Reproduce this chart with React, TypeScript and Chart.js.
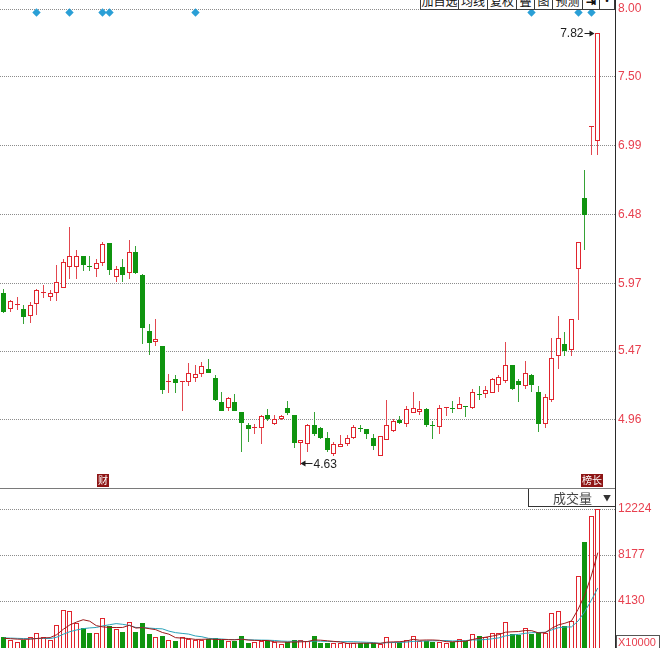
import React, { useEffect, useRef } from 'react';
import { Chart, registerables } from 'chart.js';

Chart.register(...registerables);

// ---------- data ----------
const opens = [
  5.90, 5.78, 5.81, 5.78, 5.73, 5.82, 5.90, 5.87, 5.90, 5.94,
  6.09, 6.09, 6.17, 6.095, 6.08, 6.12, 6.27, 6.02, 6.09, 6.05,
  6.20, 6.03, 5.62, 5.54, 5.51, 5.24, 5.26, 5.24, 5.24, 5.27,
  5.30, 5.34, 5.27, 5.09, 5.05, 5.09, 5.02, 4.92, 4.90, 4.90,
  5.00, 4.93, 4.97, 5.05, 5.00, 4.79, 4.78, 4.92, 4.90, 4.83,
  4.71, 4.76, 4.78, 4.83, 4.90, 4.89, 4.83, 4.69, 4.81, 4.88,
  4.96, 4.93, 5.01, 5.02, 5.04, 4.92, 4.91, 5.05, 5.05, 5.04,
  5.06, 5.05, 5.15, 5.15, 5.16, 5.22, 5.25, 5.37, 5.25, 5.21,
  5.29, 5.17, 4.93, 5.11, 5.43, 5.52, 5.48, 6.08, 6.60, 7.13,
  7.02,
];
const highs = [
  5.93, 5.85, 5.87, 5.81, 5.83, 5.93, 5.96, 5.92, 6.11, 6.15,
  6.39, 6.22, 6.17, 6.17, 6.15, 6.28, 6.27, 6.10, 6.15, 6.29,
  6.25, 6.04, 5.67, 5.71, 5.51, 5.30, 5.29, 5.25, 5.38, 5.37,
  5.39, 5.41, 5.29, 5.17, 5.13, 5.15, 5.02, 4.94, 4.93, 5.00,
  5.04, 5.00, 5.00, 5.10, 5.00, 4.81, 4.93, 5.02, 4.91, 4.87,
  4.80, 4.85, 4.85, 4.92, 4.92, 4.89, 4.86, 4.84, 5.11, 4.97,
  4.99, 5.06, 5.17, 5.10, 5.05, 4.95, 5.07, 5.05, 5.10, 5.13,
  5.06, 5.19, 5.21, 5.21, 5.27, 5.29, 5.54, 5.37, 5.26, 5.40,
  5.30, 5.21, 5.15, 5.57, 5.73, 5.61, 5.71, 6.28, 6.81, 7.13,
  7.82,
];
const lows = [
  5.75, 5.76, 5.77, 5.67, 5.68, 5.74, 5.86, 5.84, 5.84, 5.94,
  6.00, 6.00, 6.06, 6.06, 6.02, 6.10, 6.03, 5.98, 5.98, 6.00,
  6.04, 5.52, 5.44, 5.51, 5.15, 5.16, 5.16, 5.03, 5.21, 5.24,
  5.28, 5.31, 5.10, 5.03, 5.03, 5.03, 4.72, 4.80, 4.86, 4.78,
  4.95, 4.92, 4.96, 5.00, 4.75, 4.63, 4.72, 4.84, 4.82, 4.72,
  4.69, 4.76, 4.77, 4.82, 4.87, 4.82, 4.74, 4.69, 4.81, 4.87,
  4.93, 4.91, 5.01, 5.00, 4.91, 4.82, 4.86, 4.99, 5.01, 5.04,
  4.98, 5.04, 5.11, 5.12, 5.16, 5.17, 5.23, 5.18, 5.09, 5.19,
  5.17, 4.87, 4.90, 5.09, 5.34, 5.43, 5.43, 5.70, 6.22, 6.92,
  6.92,
];
const closes = [
  5.76, 5.84, 5.81, 5.72, 5.81, 5.92, 5.90, 5.90, 5.98, 6.13,
  6.17, 6.17, 6.11, 6.09, 6.12, 6.26, 6.07, 6.08, 6.03, 6.20,
  6.05, 5.64, 5.53, 5.56, 5.18, 5.24, 5.23, 5.24, 5.31, 5.30,
  5.36, 5.31, 5.11, 5.03, 5.12, 5.03, 4.94, 4.89, 4.90, 4.99,
  4.97, 4.97, 4.99, 5.01, 4.79, 4.81, 4.92, 4.86, 4.83, 4.74,
  4.78, 4.78, 4.83, 4.91, 4.895, 4.86, 4.77, 4.84, 4.92, 4.95,
  4.94, 5.04, 5.05, 5.04, 4.92, 4.915, 5.05, 5.05, 5.045, 5.08,
  5.055, 5.17, 5.145, 5.18, 5.26, 5.28, 5.37, 5.19, 5.22, 5.31,
  5.22, 4.93, 5.13, 5.42, 5.57, 5.47, 5.71, 6.28, 6.48, 7.13,
  7.82,
];
// volume, in units of 10000
const volumes = [
  994, 704, 554, 704, 941, 1290, 941, 704, 1994, 3314,
  3226, 2170, 1730, 1349, 1349, 2668, 1965, 1672, 1378, 2317,
  1437, 2170, 1202, 941, 1085, 675, 645, 994, 765, 704,
  704, 765, 850, 704, 645, 616, 1056, 470, 554, 587,
  616, 499, 352, 499, 675, 675, 645, 1026, 411, 411,
  411, 411, 411, 470, 411, 411, 411, 323, 994, 554,
  499, 704, 1056, 616, 645, 499, 554, 470, 554, 795,
  645, 1261, 1056, 994, 1290, 1290, 2317, 1232, 1115, 1730,
  1202, 1378, 1290, 3050, 3226, 1935, 2405, 6366, 9296, 11640,
  12224,
];
const volMA5 = [
  850, 820, 780, 760, 779, 839, 886, 916, 1174, 1649,
  2036, 2282, 2487, 2358, 1965, 1853, 1812, 1801, 1806, 2000,
  1754, 1795, 1701, 1613, 1367, 1215, 910, 868, 833, 757,
  762, 786, 758, 745, 734, 716, 774, 698, 668, 657,
  657, 545, 522, 511, 528, 540, 569, 704, 686, 634,
  581, 534, 411, 423, 423, 423, 423, 405, 510, 539,
  556, 615, 761, 686, 704, 704, 674, 557, 544, 574,
  604, 745, 862, 950, 1049, 1178, 1389, 1425, 1449, 1537,
  1519, 1331, 1343, 1730, 2029, 2176, 2381, 3396, 4646, 6328,
  8386,
];
const volMA10 = [
  880, 870, 850, 830, 820, 830, 840, 830, 950, 1214,
  1437, 1584, 1701, 1766, 1807, 1945, 2047, 2144, 2082, 1982,
  1804, 1804, 1751, 1710, 1684, 1484, 1352, 1284, 1223, 1062,
  989, 848, 813, 789, 745, 739, 780, 728, 707, 695,
  686, 660, 610, 589, 592, 598, 557, 613, 599, 581,
  560, 552, 558, 555, 528, 502, 478, 408, 466, 481,
  490, 519, 583, 598, 621, 630, 644, 659, 615, 639,
  654, 710, 710, 747, 812, 891, 1067, 1143, 1200, 1293,
  1349, 1360, 1384, 1589, 1783, 1848, 1856, 2370, 3188, 4179,
  5281,
];
const priceTicks = [8.0, 7.5, 6.99, 6.48, 5.97, 5.47, 4.96];
const volTicks = [12224, 8177, 4130];
const eventMarks = [5, 10, 15, 16, 29, 80, 87, 89];
const noteMarks = [
  { index: 15, text: '财' },
  { index: 90, text: '榜长' },
];
const toolbarItems = ['加自选', '均线', '复权', '叠', '图', '预测', '⇥', '·'];
const toolbarEdges = [421, 459, 488, 517, 535, 553, 583, 600, 615];

// ---------- styles ----------
const RED = '#e0242d';
const GREEN = '#0f940f';
const RED_WICK = '#e2474f';
const GREEN_WICK = '#36a236';
const AXIS_TEXT = '#e8404f';
const GRID = '#8c8c8c';
const NUM_FONT = '"Liberation Sans", Arial, sans-serif';
const CJK_FONT = '"Noto Sans CJK SC", "Noto Sans", sans-serif';

// snaps the bar elements that the library laid out onto whole pixels,
// so 1px candle outlines and wicks stay crisp
const pixelSnapPlugin = {
  id: 'pixelSnap',
  beforeDatasetsDraw(chart: any) {
    chart.data.datasets.forEach((_: any, di: number) => {
      const meta = chart.getDatasetMeta(di);
      if (meta.type !== 'bar') return;
      meta.data.forEach((el: any) => {
        el.x = Math.floor(el.x) + 0.5;
        let top = Math.round(el.y);
        const base = Math.round(el.base);
        if (top === base) top = base - 1;
        el.y = top;
        el.base = base;
        el.height = base - top;
      });
    });
  },
};

const overlayPlugin = {
  id: 'overlayMarks',
  afterDatasetsDraw(chart: any) {
    const { ctx, chartArea } = chart;
    const xs = chart.scales.x;
    const ys = chart.scales.y;
    ctx.save();
    // event diamonds
    ctx.fillStyle = '#2a9fd6';
    eventMarks.forEach((i) => {
      const px = Math.floor(xs.getPixelForValue(i)) + 0.5;
      const py = chartArea.top + 12.5;
      ctx.beginPath();
      ctx.moveTo(px, py - 4.2);
      ctx.lineTo(px + 4.2, py);
      ctx.lineTo(px, py + 4.2);
      ctx.lineTo(px - 4.2, py);
      ctx.closePath();
      ctx.fill();
    });
    // highest / lowest annotations
    let hi = 0;
    let lo = 0;
    highs.forEach((h, i) => { if (h > highs[hi]) hi = i; });
    lows.forEach((l, i) => { if (l < lows[lo]) lo = i; });
    ctx.font = `12px ${NUM_FONT}`;
    ctx.fillStyle = '#1e1e1e';
    ctx.strokeStyle = '#1e1e1e';
    ctx.lineWidth = 1;
    ctx.textBaseline = 'middle';
    {
      const px = Math.floor(xs.getPixelForValue(hi)) + 0.5;
      const py = Math.round(ys.getPixelForValue(highs[hi])) + 0.5;
      const tip = px - 3;
      ctx.beginPath();
      ctx.moveTo(px - 13, py);
      ctx.lineTo(tip - 3, py);
      ctx.stroke();
      ctx.beginPath();
      ctx.moveTo(tip, py);
      ctx.lineTo(tip - 5, py - 3);
      ctx.lineTo(tip - 5, py + 3);
      ctx.closePath();
      ctx.fill();
      ctx.textAlign = 'right';
      ctx.fillText(highs[hi].toFixed(2), px - 14, py);
    }
    {
      const px = Math.floor(xs.getPixelForValue(lo)) + 0.5;
      const py = Math.round(ys.getPixelForValue(lows[lo])) - 1.5;
      const tip = px;
      ctx.beginPath();
      ctx.moveTo(tip + 3, py);
      ctx.lineTo(px + 12, py);
      ctx.stroke();
      ctx.beginPath();
      ctx.moveTo(tip, py);
      ctx.lineTo(tip + 5, py - 3);
      ctx.lineTo(tip + 5, py + 3);
      ctx.closePath();
      ctx.fill();
      ctx.textAlign = 'left';
      ctx.fillText(lows[lo].toFixed(2), px + 13, py + 1);
    }
    // note markers at the bottom of the price panel
    ctx.font = `10px ${CJK_FONT}`;
    noteMarks.forEach((m) => {
      const px = xs.getPixelForValue(m.index);
      const w = ctx.measureText(m.text).width + 2;
      let left = px - w / 2;
      if (left + w > chartArea.right - 12) left = chartArea.right - 12 - w;
      const top = chartArea.bottom - 14;
      ctx.fillStyle = '#8e1515';
      ctx.fillRect(Math.round(left), top, Math.round(w), 13);
      ctx.fillStyle = '#ffffff';
      ctx.textAlign = 'center';
      ctx.textBaseline = 'middle';
      ctx.fillText(m.text, Math.round(left) + Math.round(w) / 2, top + 6.5);
    });
    ctx.restore();
  },
};

export default function App() {
  const priceRef = useRef<HTMLCanvasElement>(null);
  const volRef = useRef<HTMLCanvasElement>(null);

  useEffect(() => {
    document.body.style.margin = '0';
    const up = opens.map((o, i) => closes[i] >= o);
    const candleColor = up.map((u) => (u ? RED : GREEN));
    const wickColor = up.map((u) => (u ? RED_WICK : GREEN_WICK));
    const bodyFill = up.map((u) => (u ? '#ffffff' : GREEN));

    const makeX = () => ({
      type: 'linear' as const,
      min: -0.6,
      max: 92.6,
      offset: false,
      display: false,
      grid: { offset: false },
    });

    const priceChart = new Chart(priceRef.current as HTMLCanvasElement, {
      type: 'bar',
      data: {
        datasets: [
          {
            label: 'body',
            data: opens.map((o, i) => ({ x: i, y: [o, closes[i]] })) as any,
            backgroundColor: bodyFill,
            borderColor: candleColor,
            borderWidth: 1,
            borderSkipped: false,
            barThickness: 5,
            minBarLength: 1,
            inflateAmount: 0,
            grouped: false,
            order: 0,
          } as any,
          {
            label: 'wick',
            data: lows.map((l, i) => ({ x: i, y: [l, highs[i]] })) as any,
            backgroundColor: wickColor,
            borderWidth: 0,
            barThickness: 1,
            minBarLength: 1,
            inflateAmount: 0,
            grouped: false,
            order: 1,
          } as any,
        ],
      },
      options: {
        animation: false,
        responsive: false,
        maintainAspectRatio: false,
        events: [],
        layout: { padding: 0 },
        plugins: { legend: { display: false }, tooltip: { enabled: false } },
        scales: {
          x: makeX() as any,
          y: {
            position: 'right',
            min: 4.457,
            max: 8.0666,
            afterBuildTicks: (s: any) => {
              s.ticks = priceTicks.map((v) => ({ value: v }));
            },
            afterFit: (s: any) => {
              s.width = 45;
              s.paddingTop = 0;
              s.paddingBottom = 0;
            },
            grid: { color: GRID, drawTicks: false, lineWidth: 1 },
            border: { display: false, dash: [1, 1] },
            ticks: {
              color: AXIS_TEXT,
              font: { family: NUM_FONT, size: 12 },
              padding: 3,
              autoSkip: false,
              callback: (v: any) => Number(v).toFixed(2),
            },
          } as any,
        },
      },
      plugins: [pixelSnapPlugin, overlayPlugin],
    });

    const volChart = new Chart(volRef.current as HTMLCanvasElement, {
      type: 'bar',
      data: {
        datasets: [
          {
            type: 'line',
            label: 'MA5',
            data: volMA5.map((v, i) => ({ x: i, y: v })) as any,
            borderColor: '#9c1a1a',
            borderWidth: 1,
            pointRadius: 0,
            tension: 0,
            order: 0,
          } as any,
          {
            type: 'line',
            label: 'MA10',
            data: volMA10.map((v, i) => ({ x: i, y: v })) as any,
            borderColor: '#2aa2b8',
            borderWidth: 1,
            pointRadius: 0,
            tension: 0,
            order: 1,
          } as any,
          {
            type: 'bar',
            label: 'volume',
            data: volumes.map((v, i) => ({ x: i, y: v })) as any,
            backgroundColor: bodyFill,
            borderColor: candleColor,
            borderWidth: 1,
            borderSkipped: 'start',
            barThickness: 5,
            inflateAmount: 0,
            grouped: false,
            order: 2,
          } as any,
        ],
      },
      options: {
        animation: false,
        responsive: false,
        maintainAspectRatio: false,
        events: [],
        layout: { padding: 0 },
        plugins: { legend: { display: false }, tooltip: { enabled: false } },
        scales: {
          x: makeX() as any,
          y: {
            position: 'right',
            min: 0,
            max: 13896,
            afterBuildTicks: (s: any) => {
              s.ticks = volTicks.map((v) => ({ value: v }));
            },
            afterFit: (s: any) => {
              s.width = 45;
              s.paddingTop = 0;
              s.paddingBottom = 0;
            },
            grid: { color: GRID, drawTicks: false, lineWidth: 1 },
            border: { display: false, dash: [1, 1] },
            ticks: {
              color: AXIS_TEXT,
              font: { family: NUM_FONT, size: 12 },
              padding: 3,
              autoSkip: false,
              callback: (v: any) => String(v),
            },
          } as any,
        },
      },
      plugins: [pixelSnapPlugin],
    });

    return () => {
      priceChart.destroy();
      volChart.destroy();
    };
  }, []);

  return (
    <div
      style={{
        position: 'fixed',
        left: 0,
        top: 0,
        width: 660,
        height: 648,
        overflow: 'hidden',
        background: '#ffffff',
        fontFamily: CJK_FONT,
      }}
    >
      <canvas ref={priceRef} width={660} height={488} style={{ position: 'absolute', left: 0, top: 0 }} />
      <canvas ref={volRef} width={660} height={158} style={{ position: 'absolute', left: 0, top: 490 }} />

      {/* panel separator and right axis line */}
      <div style={{ position: 'absolute', left: 0, top: 488, width: 615, height: 1, background: '#7a7a7a' }} />
      <div style={{ position: 'absolute', left: 615, top: 0, width: 1, height: 648, background: '#2a2a2a' }} />

      {/* toolbar (clipped at the top) */}
      {toolbarItems.map((t, i) => (
        <div
          key={t + i}
          style={{
            position: 'absolute',
            left: toolbarEdges[i] - 1,
            top: -9,
            width: toolbarEdges[i + 1] - toolbarEdges[i] + 1,
            height: 19,
            boxSizing: 'border-box',
            border: '1px solid #3a3a3a',
            background: '#ffffff',
            fontSize: 12,
            lineHeight: '17px',
            textAlign: 'center',
            color: '#111',
            fontWeight: t === '⇥' ? 700 : 400,
            overflow: 'hidden',
            whiteSpace: 'nowrap',
          }}
        >
          {t}
        </div>
      ))}

      {/* volume indicator selector */}
      <div
        style={{
          position: 'absolute',
          left: 528,
          top: 489,
          width: 87,
          height: 18,
          boxSizing: 'border-box',
          borderLeft: '1px solid #333',
          borderBottom: '1px solid #333',
          background: '#ffffff',
        }}
      >
        <span style={{ position: 'absolute', left: 24, top: 0, fontSize: 13, lineHeight: '17px', color: '#444' }}>成交量</span>
        <span style={{ position: 'absolute', left: 74, top: 0, fontSize: 8, lineHeight: '17px', color: '#333' }}>▼</span>
      </div>

      {/* volume unit */}
      <div
        style={{
          position: 'absolute',
          left: 616,
          top: 635,
          width: 44,
          height: 14,
          boxSizing: 'border-box',
          border: '1px solid #555',
          fontFamily: NUM_FONT,
          fontSize: 11,
          lineHeight: '12px',
          color: AXIS_TEXT,
          paddingLeft: 1,
          whiteSpace: 'nowrap',
          overflow: 'hidden',
        }}
      >
        X10000
      </div>
    </div>
  );
}
